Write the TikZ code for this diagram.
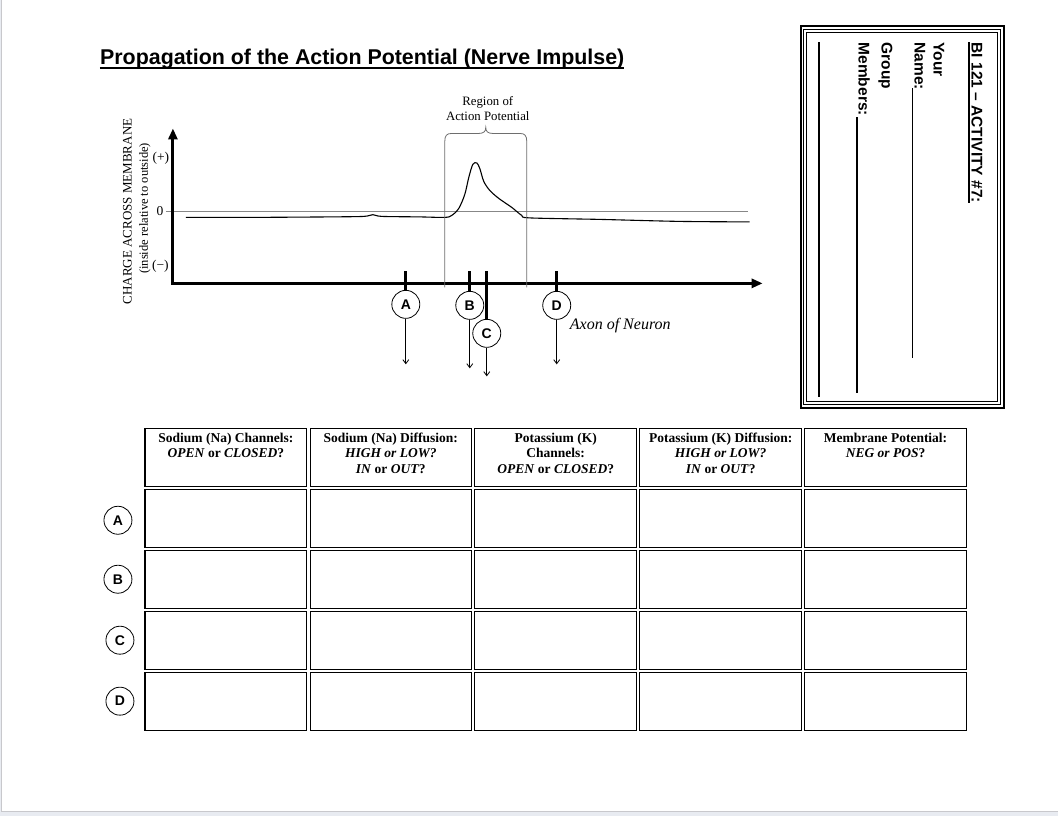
\documentclass[tikz,border=0pt]{standalone}
\usepackage{fontspec}
\setmainfont{Liberation Serif}
\newfontfamily\arialf{Liberation Sans}
\usetikzlibrary{arrows.meta}
\definecolor{pagegrey}{RGB}{232,235,241}
\definecolor{edgegrey}{RGB}{200,200,204}
\definecolor{regiongrey}{RGB}{110,110,110}
\definecolor{zerogrey}{RGB}{135,135,135}
\begin{document}
\begin{tikzpicture}[x=1pt,y=-1pt,
  axisline/.style={line width=3pt,-{Triangle[length=11pt,width=9pt]}},
  tickline/.style={line width=3pt},
  lettercircle/.style={circle,draw,line width=0.8pt,minimum size=28pt,inner sep=0pt,font=\arialf\bfseries\fontsize{14}{14}\selectfont},
  downarrow/.style={line width=0.8pt,-{Straight Barb[length=4pt,width=6pt]}},
  cell/.style={draw,line width=1.2pt},
  hdr/.style={font=\bfseries\fontsize{13.5}{15.5}\selectfont,align=center,inner sep=0pt,anchor=north},
  sidetext/.style={font=\arialf\bfseries\fontsize{15.5}{15.5}\selectfont,rotate=-90,anchor=base west,inner sep=0pt},
  blankline/.style={line width=1.8pt},
  plainlabel/.style={inner sep=0pt,font=\fontsize{13.5}{13.5}\selectfont}
]
% page
\fill[pagegrey] (0,0) rectangle (1058,816);
\fill[white] (2,0) rectangle (1058,810.5);
\draw[edgegrey,line width=1pt] (2,0) -- (2,811) -- (1058,811);
\useasboundingbox (0,0) rectangle (1058,816);

% title
\node[font=\arialf\bfseries\fontsize{21.4}{21.4}\selectfont,anchor=base west,inner sep=0pt] (title) at (100,64) {Propagation of the Action Potential (Nerve Impulse)};
\draw[line width=1.6pt] ([yshift=-3.5pt]title.base west) -- ([yshift=-3.5pt]title.base east);

% axis labels
\node[rotate=90,inner sep=0pt,font=\fontsize{13}{13}\selectfont] (ylab) at (127.5,211) {CHARGE ACROSS MEMBRANE};
\node[rotate=90,inner sep=0pt,font=\fontsize{12.5}{12.5}\selectfont] (ylab2) at (145,208) {(inside relative to outside)};
\node[plainlabel] (plus) at (161,158) {(+)};
\node[plainlabel] (zero) at (160,211) {0};
\node[plainlabel] (minus) at (160.5,266) {(−)};

% zero line
\coordinate (z0) at (166,211);
\coordinate (z1) at (748,211);
\draw[zerogrey,line width=0.9pt] (z0) -- (z1);

% axes
\coordinate (orig) at (173,283);
\coordinate (ytip) at (173,128);
\coordinate (xtip) at (763,283);
\draw[axisline] (orig) -- (ytip);
\draw[axisline] ([xshift=-1.5pt]orig) -- (xtip);

% membrane potential curve
\draw[line width=1.1pt,line join=round] plot[smooth,tension=0.5] coordinates {
 (186,217) (250,217) (330,216.5) (364,216) (373,214.3) (382,216) (420,216.5) (445,217)
 (452,215) (459,208) (465,194) (469,177) (473,164) (477,162.5) (480,168) (484,181)
 (490,190) (499,198) (512,207) (522,215) (530,217.5) (600,219) (680,221) (750,221.5)};

% region of action potential
\draw[regiongrey,line width=0.8pt] (445,287) -- (445,141)
  .. controls (445,135) and (447,133) .. (452,133) -- (479,133)
  .. controls (484,133) and (486,131) .. (486,127)
  .. controls (486,131) and (488,133) .. (493,133) -- (520,133)
  .. controls (525,133) and (527,135) .. (527,141) -- (527,287);
\node[font=\fontsize{12.8}{15}\selectfont,align=center,inner sep=0pt] (region) at (488,108.5) {Region of\\Action Potential};

% points on the axon
\node[lettercircle] (cA) at (406,304) {A};
\node[lettercircle] (cB) at (470,305) {B};
\node[lettercircle] (cC) at (487,333) {C};
\node[lettercircle] (cD) at (557,305) {D};
\coordinate (tA) at (406,271);
\coordinate (tB) at (470,271);
\coordinate (tC) at (487,271);
\coordinate (tD) at (557,271);
\draw[tickline] (tA) -- (cA.north);
\draw[tickline] (tB) -- (cB.north);
\draw[tickline] (tC) -- (cC.north);
\draw[tickline] (tD) -- (cD.north);
\coordinate (eA) at (406,364);
\coordinate (eB) at (470,368);
\coordinate (eC) at (487,376);
\coordinate (eD) at (557,364);
\draw[downarrow] (cA.south) -- (eA);
\draw[downarrow] (cB.south) -- (eB);
\draw[downarrow] (cC.south) -- (eC);
\draw[downarrow] (cD.south) -- (eD);

\node[font=\itshape\fontsize{16}{16}\selectfont,anchor=base west,inner sep=0pt] (axon) at (570,329) {Axon of Neuron};

% name box
\draw[line width=2pt] (801,26) rectangle (1004,407.5);
\draw[line width=1pt] (804,29) rectangle (1000.5,404.5);
\draw[line width=1pt] (807,32) rectangle (997.5,401);
\node[sidetext] (bi) at (972,42) {BI 121 – ACTIVITY \#7:};
\draw[line width=1.3pt] ([xshift=-2.5pt]bi.base west) -- ([xshift=-2.5pt]bi.base east);
\node[sidetext] (your) at (934,42) {Your};
\node[sidetext] (name) at (915,42) {Name:};
\node[sidetext] (group) at (882,42) {Group};
\node[sidetext] (members) at (859,42) {Members:};
\coordinate (n1) at (913,358);
\coordinate (m1) at (857.5,393);
\draw[blankline] (913,88) -- (n1);
\draw[blankline] (857.5,117) -- (m1);
\draw[blankline] (819,42) -- (819,397);

% table
\foreach \xa/\xb in {145/307,310.5/471.5,475/636.5,640/801.5,805/967}{
  \foreach \ya/\yb in {428/486,489.5/547,550.5/608,611.5/669,672.5/730}{
    \draw[cell] (\xa,\ya) rectangle (\xb,\yb);
  }
}
\node[hdr] (h1) at (226,432.5) {Sodium (Na) Channels:\\\textit{OPEN} or \textit{CLOSED}?};
\node[hdr] (h2) at (391,432.5) {Sodium (Na) Diffusion:\\\textit{HIGH or LOW?}\\\textit{IN} or \textit{OUT}?};
\node[hdr] (h3) at (556,432.5) {Potassium (K)\\Channels:\\\textit{OPEN} or \textit{CLOSED}?};
\node[hdr] (h4) at (721,432.5) {Potassium (K) Diffusion:\\\textit{HIGH or LOW?}\\\textit{IN} or \textit{OUT}?};
\node[hdr] (h5) at (886,432.5) {Membrane Potential:\\\textit{NEG or POS}?};

\node[lettercircle] (rA) at (118,520) {A};
\node[lettercircle] (rB) at (118,579) {B};
\node[lettercircle] (rC) at (120,640) {C};
\node[lettercircle] (rD) at (120,701) {D};
\end{tikzpicture}
\end{document}
